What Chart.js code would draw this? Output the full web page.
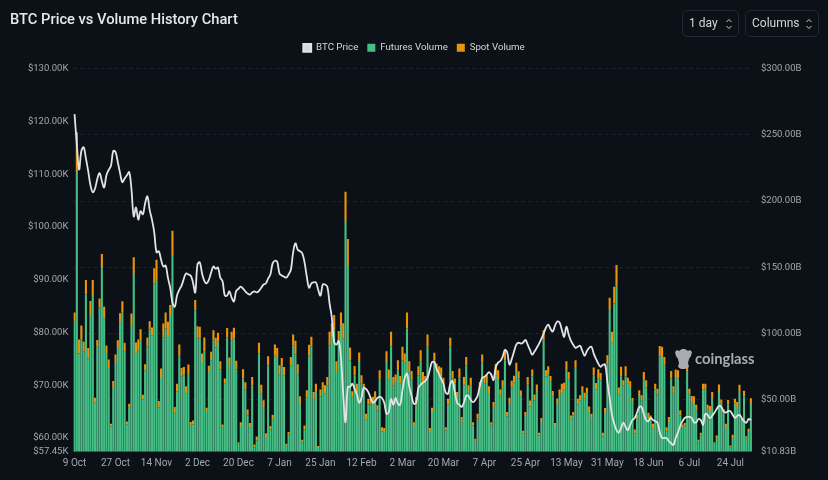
<!DOCTYPE html>
<html><head><meta charset="utf-8">
<script src="https://cdn.jsdelivr.net/npm/chart.js@4"></script>
<style>
html,body{margin:0;padding:0;background:#0c1017;width:828px;height:480px;overflow:hidden;font-family:Roboto,Inter,sans-serif}
#wrap{position:relative;width:828px;height:480px}
canvas{position:absolute;left:0;top:0}
#title{position:absolute;left:10px;top:9px;color:#e6e8ea;font-size:14.7px;font-weight:500;line-height:20px}
.sel{position:absolute;top:10px;height:25px;border:1px solid #23272f;border-radius:5px;color:#d5d7da;font-size:12px;line-height:25px;background:#0c1017;box-sizing:content-box}
.sel span{position:absolute;left:6px;top:0;white-space:nowrap}
.sel svg{position:absolute;top:7px}
#wm{position:absolute;left:695px;top:349px;color:#a9acb2;font:700 14.8px Lato,Inter,sans-serif;line-height:19px}
#logo{position:absolute;left:674px;top:348px}
</style></head><body>
<div id="wrap">
<canvas id="c" width="828" height="480"></canvas>
<div id="title">BTC Price vs Volume History Chart</div>
<div class="sel" style="left:682px;width:55px"><span>1 day</span><svg width="8" height="12" style="left:42px"><path d="M1.5 4 L4 1.5 L6.5 4 M1.5 8 L4 10.5 L6.5 8" stroke="#c8cacd" fill="none"/></svg></div>
<div class="sel" style="left:745px;width:72px"><span>Columns</span><svg width="8" height="12" style="left:59px"><path d="M1.5 4 L4 1.5 L6.5 4 M1.5 8 L4 10.5 L6.5 8" stroke="#c8cacd" fill="none"/></svg></div>
<svg id="logo" width="19" height="22"><path d="M1 4 L3 2 L5 3 L8 1 L11 1 L14 3 L16 2 L18 4 L17 8 L15 11 L14 15 L15 19 L11 21 L7 21 L4 19 L5 15 L4 11 L2 8 Z" fill="#a9acb2"/></svg>
<div id="wm">coinglass</div>
</div>
<script>
const startDate = Date.UTC(2024, 9, 9);
const monthNames = ['Jan','Feb','Mar','Apr','May','Jun','Jul','Aug','Sep','Oct','Nov','Dec'];
const dayCount = 298;
const categories = [];
for (let i = 0; i < dayCount; i++) {
  const d = new Date(startDate + i * 86400000);
  categories.push(d.getUTCDate() + ' ' + monthNames[d.getUTCMonth()]);
}
const xTickLabels = ['9 Oct','27 Oct','14 Nov','2 Dec','20 Dec','7 Jan','25 Jan','12 Feb','2 Mar','20 Mar','7 Apr','25 Apr','13 May','31 May','18 Jun','6 Jul','24 Jul'];
const priceTicks = [57.45,60,70,80,90,100,110,120,130];
const volumeTicks = [10.83,50,100,150,200,250,300];

const futuresVolume = [
108.8,222,84.8,95.4,86.1,129.5,81.0,113.9,129.0,47.7,89.9,119.7,149.2,111.3,85.3,74.7,29.8,59.6,78.5,89.1,
108.1,115.6,86.1,31.5,43.9,106.3,144.9,84.8,87.3,94.4,50.2,72.2,90.4,103.0,98.7,137.9,140.4,43.9,66.4,96.9,
103.8,98.0,113.9,159.3,39.4,56.3,82.8,67.7,68.4,54.5,70.2,30.3,31.3,117.6,96.2,96.2,78.5,86.1,40.6,71.7,
79.8,94.9,89.4,93.7,72.7,28.8,62.1,96.9,75.5,94.4,96.2,72.7,16.6,30.0,65.9,57.6,38.1,28.8,60.8,14.1,
19.2,84.8,54.5,44.4,21.7,76.0,27.5,34.8,83.6,82.3,69.2,75.2,68.4,14.9,23.5,76.0,91.1,84.3,69.2,47.5,
17.9,27.5,51.5,83.1,89.9,50.2,56.5,13.4,52.5,58.3,54.5,60.8,91.1,98.0,102.5,70.9,93.7,106.3,96.2,185,
151,79.8,51.5,68.4,55.8,78.5,62.1,58.3,34.8,46.4,46.4,47.0,50.7,41.9,65.1,26.2,25.5,78.5,65.1,90.4,
60.8,63.4,72.2,62.1,79.8,77.8,103.8,71.7,65.1,30.0,45.7,68.4,79.0,64.1,64.1,89.9,25.5,40.6,79.3,71.7,
69.2,67.7,62.1,26.7,46.4,89.9,65.9,62.1,52.0,65.9,33.1,61.3,76.0,55.8,60.8,30.5,18.7,35.6,58.3,77.8,
62.1,63.4,55.0,31.0,44.4,68.4,64.6,53.3,59.6,79.8,37.4,47.5,59.1,62.9,71.7,65.9,52.5,24.7,37.6,61.3,
44.9,67.7,49.5,55.8,23.0,33.1,94.9,67.7,69.2,63.9,52.5,30.0,47.5,52.8,55.8,57.5,72.2,65.1,35.6,38.1,
74.7,46.4,49.5,55.8,50.7,54.5,40.6,36.1,68.4,57.5,65.9,64.6,22.2,39.9,76.7,117.6,92.9,122.7,136.6,54.0,
67.7,60.8,67.7,62.1,59.6,48.2,24.7,35.6,52.8,49.5,64.6,59.1,36.1,34.3,28.0,57.8,54.0,82.8,82.3,76.0,
26.2,33.1,65.9,54.5,66.4,65.9,38.1,29.3,30.3,71.7,54.0,48.2,47.5,41.9,17.9,23.0,57.5,57.5,42.4,41.4,
50.7,16.6,20.4,55.8,46.9,39.4,29.3,46.4,14.1,20.4,46.9,44.4,56.5,33.1,52.5,20.4,25.5,47.5];

const spotVolume = [
7.1,30,10.6,10.6,7.6,10.9,8.1,10.6,11.4,3.8,5.1,6.8,10.9,8.8,5.6,5.6,2.0,4.5,5.6,5.8,
7.1,8.8,6.8,2.0,3.0,8.8,12.6,8.3,8.1,8.8,3.5,4.5,6.6,6.3,5.8,11.4,15.2,5.1,7.1,10.6,
12.1,10.9,7.6,18.2,5.1,5.8,8.8,6.3,6.3,5.6,6.3,2.8,3.0,7.6,9.3,8.8,6.3,10.9,3.3,4.0,
6.3,7.6,7.3,6.8,6.3,2.5,3.8,7.3,6.3,6.8,8.1,6.6,1.3,3.0,7.1,5.6,4.5,3.5,6.3,2.0,
3.0,8.1,6.8,5.1,3.0,6.8,2.5,3.8,8.1,6.8,6.8,6.3,6.3,1.8,2.0,6.3,8.1,10.1,7.6,5.1,
1.8,3.0,5.6,8.3,7.6,5.6,5.6,1.5,5.1,4.8,6.3,6.3,10.1,9.8,11.4,8.1,8.1,9.6,11.6,22,
20.4,9.6,4.8,7.1,6.3,7.1,6.3,3.8,4.5,4.3,4.3,5.1,5.6,3.8,7.1,3.0,3.0,8.1,7.6,10.9,
6.3,5.6,7.6,5.8,10.1,7.1,12.1,7.3,6.6,3.0,6.3,6.8,8.3,6.8,3.8,9.3,3.0,3.3,6.1,5.6,
6.1,6.6,4.5,2.5,4.3,6.8,5.8,3.8,3.8,7.6,3.8,5.8,6.3,5.1,5.8,2.5,1.8,3.8,5.1,6.3,
5.1,5.1,5.1,2.0,3.8,8.8,7.6,4.3,5.1,8.3,3.3,4.0,5.1,5.1,6.1,5.6,4.5,1.8,3.0,5.8,
4.5,5.1,4.3,5.6,2.0,3.0,7.6,4.5,6.1,4.0,4.0,2.3,3.3,4.8,6.3,5.3,6.8,5.8,2.5,2.5,
5.1,4.3,3.8,4.3,4.5,4.5,4.3,3.3,5.8,5.1,7.1,5.6,2.8,3.8,6.8,9.3,8.3,12.6,15.2,5.1,
7.1,3.8,7.6,4.5,4.3,3.0,2.8,3.0,4.3,3.8,6.3,5.6,4.0,3.8,3.8,4.3,4.3,7.8,7.6,6.3,
3.0,3.8,5.8,5.6,6.3,6.3,3.8,2.0,2.0,4.3,4.3,4.5,5.1,4.3,1.8,2.0,4.5,4.5,3.8,3.8,
5.1,1.3,2.5,5.6,3.3,3.3,2.5,3.3,1.3,3.0,3.8,3.8,4.8,2.5,4.3,2.0,2.5,3.5];

const btcPrice = [
121.4,115.7,110.9,114.4,115.1,113.0,110.6,107.9,106.6,107.3,109.1,110.2,108.7,107.5,109.8,110.8,111.6,114.4,114.2,112.3,
110.2,108.5,109.2,109.8,110.4,107.1,102.0,103.7,101.4,103.0,102.4,104.5,105.8,103.2,101.4,99.0,95.2,95.4,93.8,92.5,
92.7,90.4,88.5,85.7,84.9,87.0,88.1,88.9,90.2,91.2,91.0,90.8,89.5,87.6,92.9,93.3,91.2,89.8,89.3,90.0,
91.4,92.5,92.1,92.3,90.4,89.7,87.0,87.0,87.8,86.6,85.9,87.9,88.3,88.7,88.3,87.8,87.4,87.2,87.6,87.8,
87.6,87.9,88.5,89.1,89.3,90.2,91.0,93.1,93.6,93.4,91.2,90.8,90.6,90.4,91.0,91.9,95.2,96.9,95.7,95.4,
95.0,93.3,90.6,88.5,89.3,89.5,89.5,88.1,87.0,89.1,89.1,88.7,85.5,82.8,78.2,77.7,78.4,75.2,68.2,63.0,
69.7,69.7,70.3,69.3,68.2,66.7,67.6,69.5,69.3,68.7,67.6,66.7,67.0,67.6,67.8,67.6,66.7,64.6,64.9,67.4,
66.3,67.6,66.5,66.3,69.1,71.4,72.2,69.7,68.0,66.5,66.7,69.5,70.1,70.5,70.8,71.4,72.9,74.4,74.4,73.1,
72.2,71.2,70.3,68.6,68.4,70.3,70.8,68.7,66.7,66.3,65.9,66.7,68.0,68.0,67.2,66.8,67.2,68.0,69.9,71.4,
71.6,72.0,72.5,72.0,71.0,73.5,74.3,74.6,75.4,76.7,76.2,73.9,75.0,76.4,77.7,78.1,77.9,78.1,78.6,77.7,
76.7,75.8,76.4,77.1,77.9,78.8,79.8,80.9,81.5,80.7,80.2,81.3,82.1,81.9,80.5,79.2,81.1,79.6,78.4,77.7,
77.1,77.3,77.5,76.5,75.6,76.5,77.1,77.3,76.0,75.0,74.1,73.5,73.9,73.9,70.6,67.6,64.4,62.7,61.5,61.0,
61.9,62.9,62.1,61.5,62.5,63.4,63.8,64.8,65.9,65.9,64.6,63.4,63.2,63.8,63.4,63.2,62.9,61.1,60.0,60.0,
60.0,59.4,59.0,58.7,60.0,61.1,62.3,63.2,63.8,64.0,64.0,63.8,63.0,63.0,63.6,63.4,62.5,64.6,64.4,63.8,
64.2,64.8,65.5,66.1,65.9,65.1,64.8,65.1,65.1,64.4,63.8,64.2,64.4,63.8,63.2,62.9,63.6,63.4];

const tickColor = '#a4a8ae';
const legendGap = { id:'legendGap', beforeInit(chart){
  const fit = chart.legend.fit;
  chart.legend.fit = function(){ fit.call(this); this.height += 6; };
}};
new Chart(document.getElementById('c'), {
  type: 'bar',
  plugins: [legendGap],
  data: {
    labels: categories,
    datasets: [
      {type:'line', label:'BTC Price', data:btcPrice, yAxisID:'yPrice', borderColor:'#e2e3e5', backgroundColor:'#d9dadc', borderWidth:1.8, pointRadius:0, tension:0.4, order:0},
      {label:'Futures Volume', data:futuresVolume, yAxisID:'yVol', stack:'v', backgroundColor:'#45bd85', borderWidth:0, barPercentage:0.93, categoryPercentage:1, order:1},
      {label:'Spot Volume', data:spotVolume, yAxisID:'yVol', stack:'v', backgroundColor:'#e8940c', borderWidth:0, barPercentage:0.93, categoryPercentage:1, order:1}
    ]
  },
  options: {
    responsive:false, animation:false, devicePixelRatio:1,
    layout:{padding:{top:34,left:0,right:0,bottom:0}},
    plugins:{
      tooltip:{enabled:false},
      legend:{position:'top',align:'center',labels:{color:'#d5d7da',boxWidth:8,boxHeight:8,padding:9,font:{family:'Roboto',size:9.7}}}
    },
    scales:{
      x:{
        stacked:true, offset:true,
        grid:{display:false,drawTicks:false}, border:{display:false},
        afterBuildTicks(s){ s.ticks = s.ticks.filter(t => xTickLabels.includes(categories[t.value]) && t.value % 18 === 0); },
        afterFit(s){ s.height = 28.5; },
        ticks:{color:tickColor,autoSkip:false,maxRotation:0,minRotation:0,padding:6,font:{family:'Roboto',size:10}}
      },
      yPrice:{
        position:'left', min:57.45, max:130,
        grid:{display:false,drawTicks:false}, border:{display:false},
        afterBuildTicks(s){ s.ticks = priceTicks.map(v => ({value:v})); },
        afterFit(s){ s.width = 73.4; },
        ticks:{color:tickColor,padding:5,font:{family:'Roboto',size:9.5},callback:v => '$'+Number(v).toFixed(2)+'K'}
      },
      yVol:{
        position:'right', min:10.83, max:300, stacked:true,
        grid:{color:'#1e252d',drawTicks:false,tickLength:0}, border:{display:false,dash:[3,4]},
        afterBuildTicks(s){ s.ticks = volumeTicks.map(v => ({value:v})); },
        afterFit(s){ s.width = 76; },
        ticks:{color:tickColor,padding:9,font:{family:'Roboto',size:9.5},callback:v => '$'+Number(v).toFixed(2)+'B'}
      }
    }
  }
});
</script>
</body></html>
